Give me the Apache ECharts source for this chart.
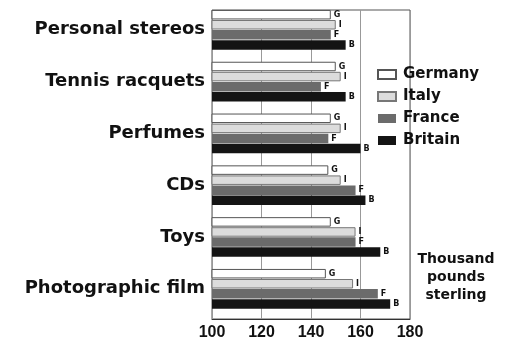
<!DOCTYPE html>
<html>
<head>
<meta charset="utf-8">
<script src="https://cdn.jsdelivr.net/npm/echarts@6/dist/echarts.min.js"></script>
<style>html,body{margin:0;padding:0;background:#fff;}#c{width:512px;height:343px;}</style>
</head>
<body>
<div id="c"></div>
<script>
const categories = ['Personal stereos', 'Tennis racquets', 'Perfumes', 'CDs', 'Toys', 'Photographic film'];
const germany = [148, 150, 148, 147, 148, 146];
const italy   = [150, 152, 152, 152, 158, 157];
const france  = [148, 144, 147, 158, 158, 167];
const britain = [154, 154, 160, 162, 168, 172];
const xTicks = [100, 120, 140, 160, 180];
const seriesNames = ['Germany', 'Italy', 'France', 'Britain'];
const seriesLetters = ['G', 'I', 'F', 'B'];
const unitLines = ['Thousand', 'pounds', 'sterling'];

const chart = echarts.init(document.getElementById('c'));
const styles = [
  {color: '#ffffff', borderColor: '#555', borderWidth: 1},
  {color: '#dcdcdc', borderColor: '#777', borderWidth: 1},
  {color: '#6b6b6b', borderColor: '#5a5a5a', borderWidth: 0},
  {color: '#141414', borderColor: '#141414', borderWidth: 0}
];
const values = [germany, italy, france, britain];
const font = 'DejaVu Sans';

chart.setOption({
  animation: false,
  backgroundColor: '#fff',
  grid: [
    {left: 212, right: 102, top: 3.9, height: 310.8, show: false},
    {left: 212, right: 102, top: 10, bottom: 24, show: true, borderColor: '#555', borderWidth: 1, z: 0}
  ],
  xAxis: [
    {gridIndex: 0, type: 'value', min: 100, max: 180, interval: 20, show: false},
    {gridIndex: 1, type: 'value', min: 100, max: 180, interval: 20,
     axisLine: {show: true, lineStyle: {color: '#333'}}, axisTick: {show: false},
     splitLine: {show: true, lineStyle: {color: '#999', width: 1}},
     axisLabel: {fontFamily: 'Liberation Sans', fontWeight: 'bold', fontSize: 16, color: '#111', margin: 6,
       formatter: v => xTicks.includes(v) ? String(v) : ''}}
  ],
  yAxis: [
    {gridIndex: 0, type: 'category', data: categories, inverse: true,
     axisLine: {show: false}, axisTick: {show: false},
     axisLabel: {fontFamily: font, fontWeight: 'bold', fontSize: 18, color: '#111', margin: 7}},
    {gridIndex: 1, type: 'value', min: 0, max: 1, show: false}
  ],
  legend: {
    orient: 'vertical', left: 377, top: 67, padding: 0, itemWidth: 18, itemHeight: 9, itemGap: 7,
    icon: 'rect',
    textStyle: {fontFamily: font, fontWeight: 'bold', fontSize: 15, color: '#111', padding: [0,0,0,2]},
    data: seriesNames
  },
  graphic: [{
    type: 'text', x: 456, y: 250,
    style: {text: unitLines.join('\n'), fontFamily: font, fontWeight: 'bold', fontSize: 14, lineHeight: 18,
            fill: '#111', align: 'center', verticalAlign: 'top'}
  }],
  series: seriesNames.map((name, i) => ({
    name: name, type: 'bar', xAxisIndex: 0, yAxisIndex: 0,
    data: values[i], barWidth: 9.5, barGap: '6%',
    itemStyle: styles[i],
    label: {show: true, position: 'right', distance: 3, formatter: seriesLetters[i],
            fontFamily: font, fontWeight: 'bold', fontSize: 8, color: '#111'}
  }))
});
</script>
</body>
</html>
